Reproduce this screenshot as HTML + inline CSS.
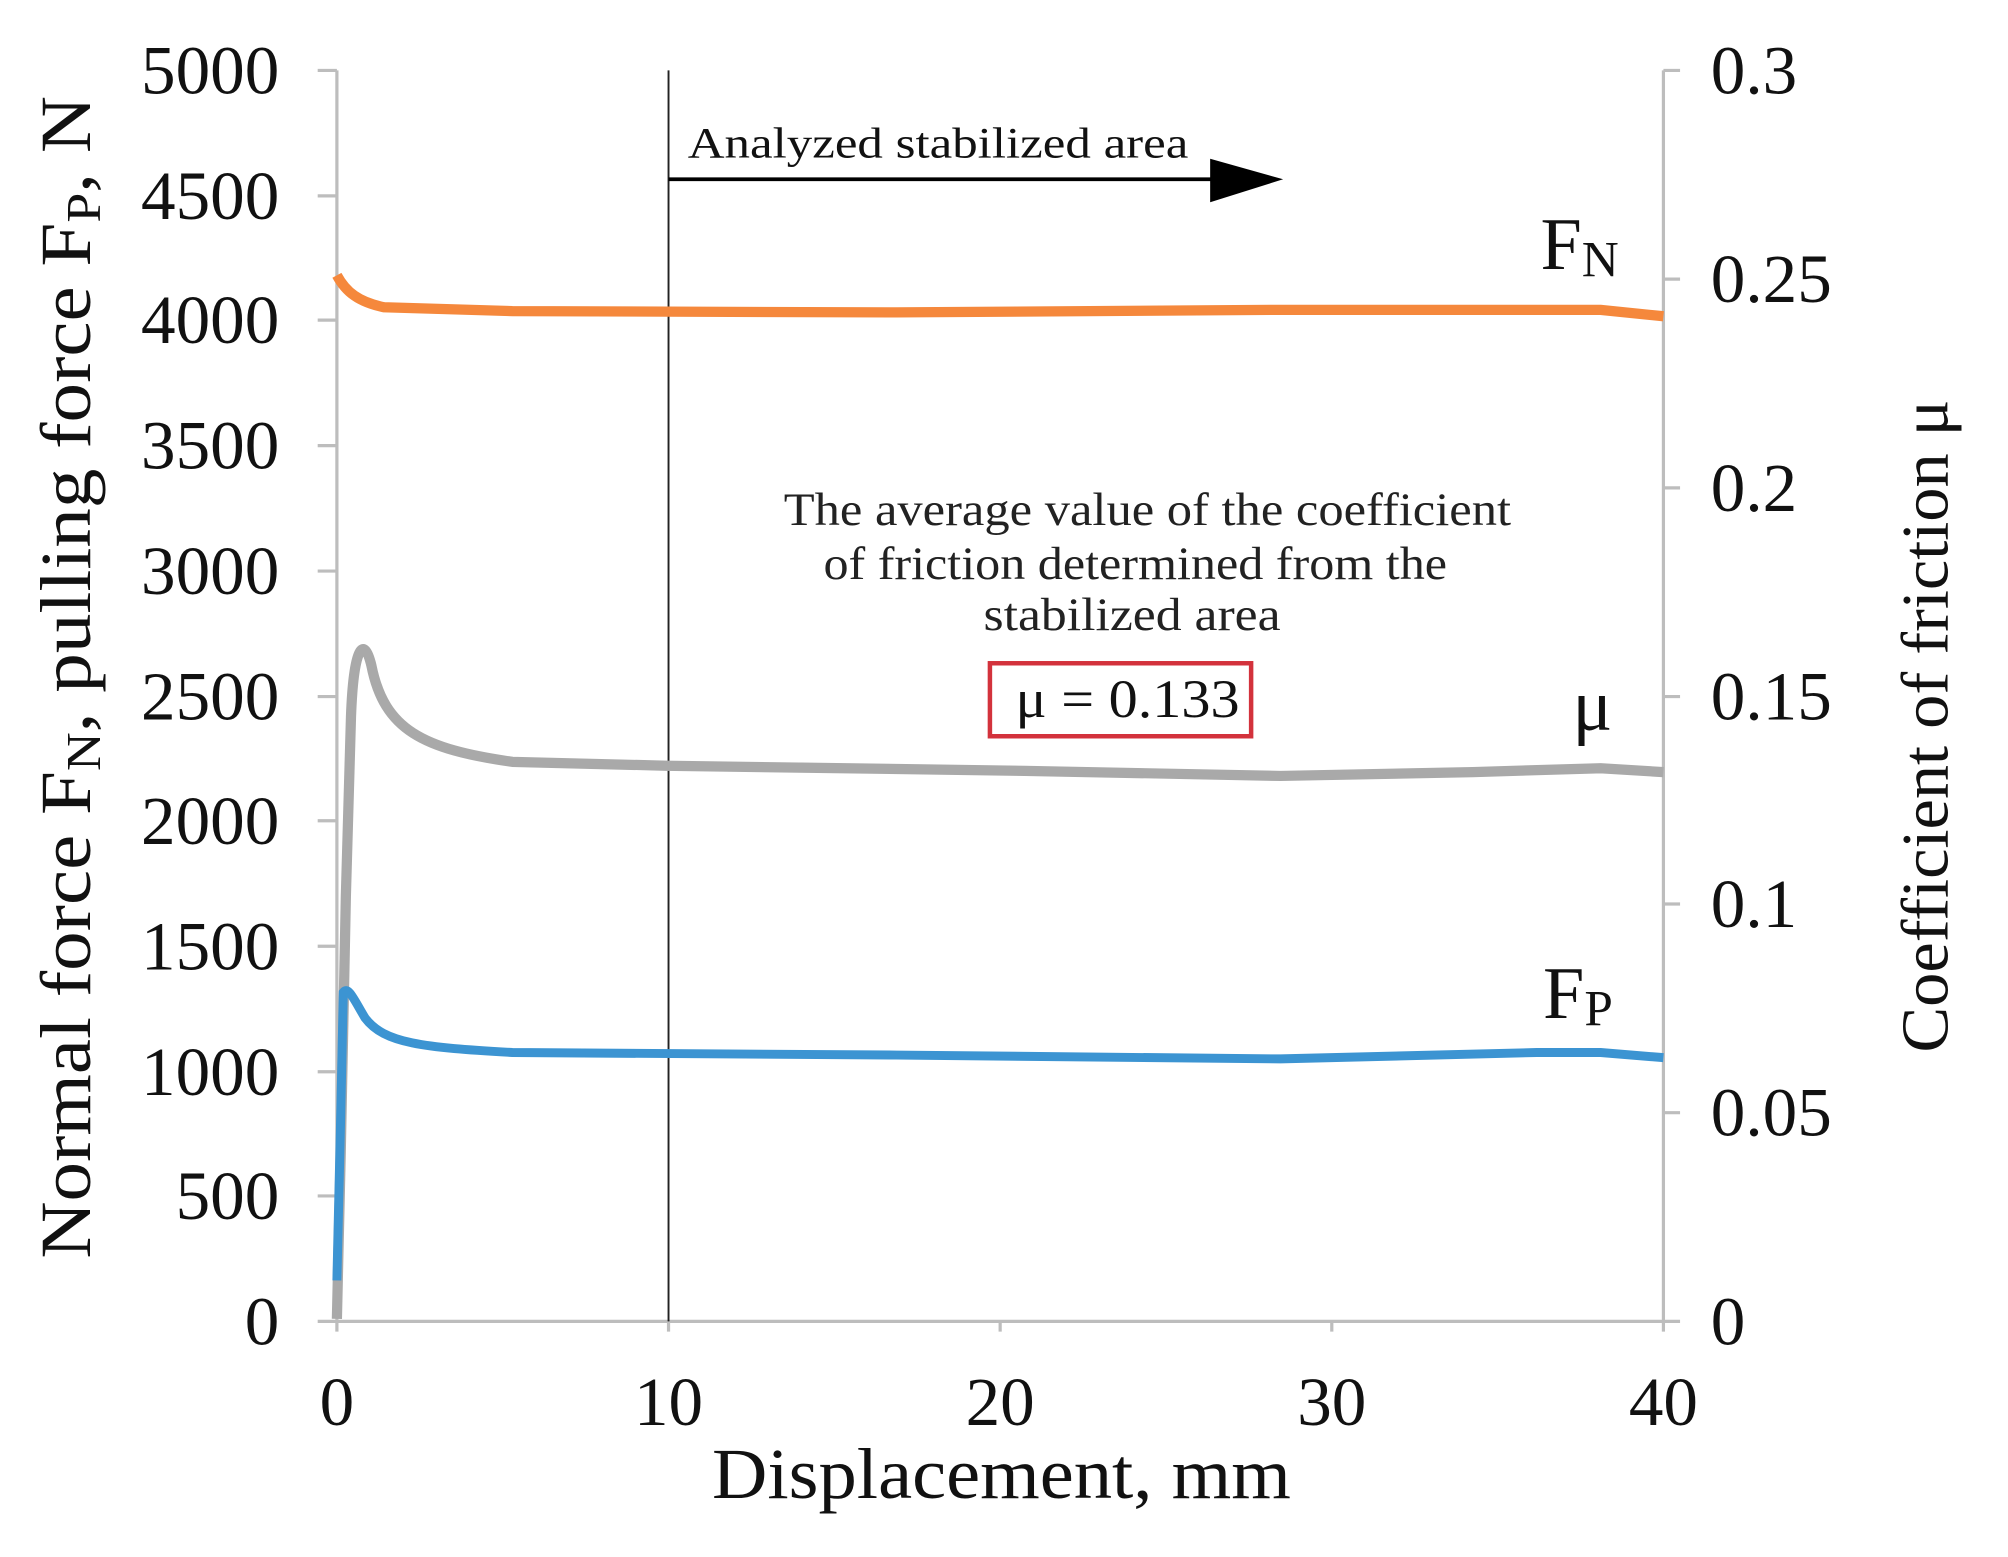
<!DOCTYPE html>
<html><head><meta charset="utf-8"><style>html,body{margin:0;padding:0;background:#fff}svg{display:block}</style></head>
<body>
<svg width="2008" height="1557" viewBox="0 0 1568 1216" xmlns="http://www.w3.org/2000/svg" font-family="'Liberation Serif', serif">
<rect width="1568" height="1216" fill="#fff"/>
<g stroke="#bdbdbd" stroke-width="2.5" fill="none">
<line x1="263" y1="55" x2="263" y2="1040"/>
<line x1="248" y1="1032" x2="1299" y2="1032"/>
<line x1="1299" y1="55" x2="1299" y2="1040"/>
<path d="M248,55h15M248,153h15M248,250h15M248,348h15M248,446h15M248,544h15M248,641h15M248,739h15M248,837h15M248,934h15"/>
<path d="M1299,55h13M1299,218h13M1299,381h13M1299,544h13M1299,706h13M1299,869h13M1299,1032h13"/>
<path d="M522,1032v8M781,1032v8M1040,1032v8"/>
</g>
<g font-size="54" text-anchor="end" fill="#111">
<text x="218" y="73">5000</text><text x="218" y="171">4500</text><text x="218" y="268">4000</text><text x="218" y="366">3500</text><text x="218" y="464">3000</text><text x="218" y="562">2500</text><text x="218" y="659">2000</text><text x="218" y="757">1500</text><text x="218" y="855">1000</text><text x="218" y="952">500</text><text x="218" y="1050">0</text>
</g>
<g font-size="54" fill="#111">
<text x="1336" y="73">0.3</text><text x="1336" y="236">0.25</text><text x="1336" y="399">0.2</text><text x="1336" y="562">0.15</text><text x="1336" y="724">0.1</text><text x="1336" y="887">0.05</text><text x="1336" y="1050">0</text>
</g>
<g font-size="54" text-anchor="middle" fill="#111">
<text x="263" y="1113">0</text><text x="522" y="1113">10</text><text x="781" y="1113">20</text><text x="1040" y="1113">30</text><text x="1299" y="1113">40</text>
</g>
<text x="556" y="1170" font-size="56" textLength="452" lengthAdjust="spacingAndGlyphs" fill="#111">Displacement, mm</text>
<text transform="translate(70,983) rotate(-90)" font-size="56" textLength="908" lengthAdjust="spacingAndGlyphs" fill="#111">Normal force F<tspan font-size="38" dy="8">N</tspan><tspan dy="-8">, pulling force F</tspan><tspan font-size="38" dy="8">P</tspan><tspan dy="-8">, N</tspan></text>
<text transform="translate(1521,822) rotate(-90)" font-size="52" textLength="510" lengthAdjust="spacingAndGlyphs" fill="#111">Coefficient of friction μ</text>
<line x1="522" y1="55" x2="522" y2="1032" stroke="#222" stroke-width="1.5"/>
<line x1="522" y1="140" x2="950" y2="140" stroke="#000" stroke-width="3"/>
<polygon points="945,124 1002,140 945,158" fill="#000"/>
<text x="537" y="123" font-size="34" textLength="391" lengthAdjust="spacingAndGlyphs" fill="#111">Analyzed stabilized area</text>
<g font-size="36" fill="#222">
<text x="612" y="410" textLength="568" lengthAdjust="spacingAndGlyphs">The average value of the coefficient</text>
<text x="643" y="452" textLength="487" lengthAdjust="spacingAndGlyphs">of friction determined from the</text>
<text x="768" y="492" textLength="232" lengthAdjust="spacingAndGlyphs">stabilized area</text>
</g>
<rect x="773" y="518" width="204" height="57" fill="none" stroke="#d3323c" stroke-width="3.5"/>
<text x="793" y="560" font-size="42" textLength="175" lengthAdjust="spacingAndGlyphs" fill="#111">μ = 0.133</text>
<path d="M263,215 C270,228 280,236 300,240 L400,243 L700,244 L1000,242 L1250,242 L1299,247" fill="none" stroke="#f5883c" stroke-width="8"/>
<path d="M263,1030 L266,900 L270,700 L274,560 C276,505 284,495 290,520 C300,570 330,585 400,595 L520,598 L800,602 L1000,606 L1150,603 L1250,600 L1299,603" fill="none" stroke="#a9a9a9" stroke-width="8"/>
<path d="M263,1000 L266,870 L268,775 C272,770 276,780 285,795 C300,815 330,818 400,822 L700,824 L1000,827 L1200,822 L1250,822 L1299,826" fill="none" stroke="#3c94d2" stroke-width="7"/>
<text x="1203" y="210" font-size="58" fill="#111">F<tspan font-size="40" dy="6">N</tspan></text>
<text x="1228" y="570" font-size="58" fill="#111">μ</text>
<text x="1205" y="795" font-size="58" fill="#111">F<tspan font-size="40" dy="6">P</tspan></text>
</svg>
</body></html>
